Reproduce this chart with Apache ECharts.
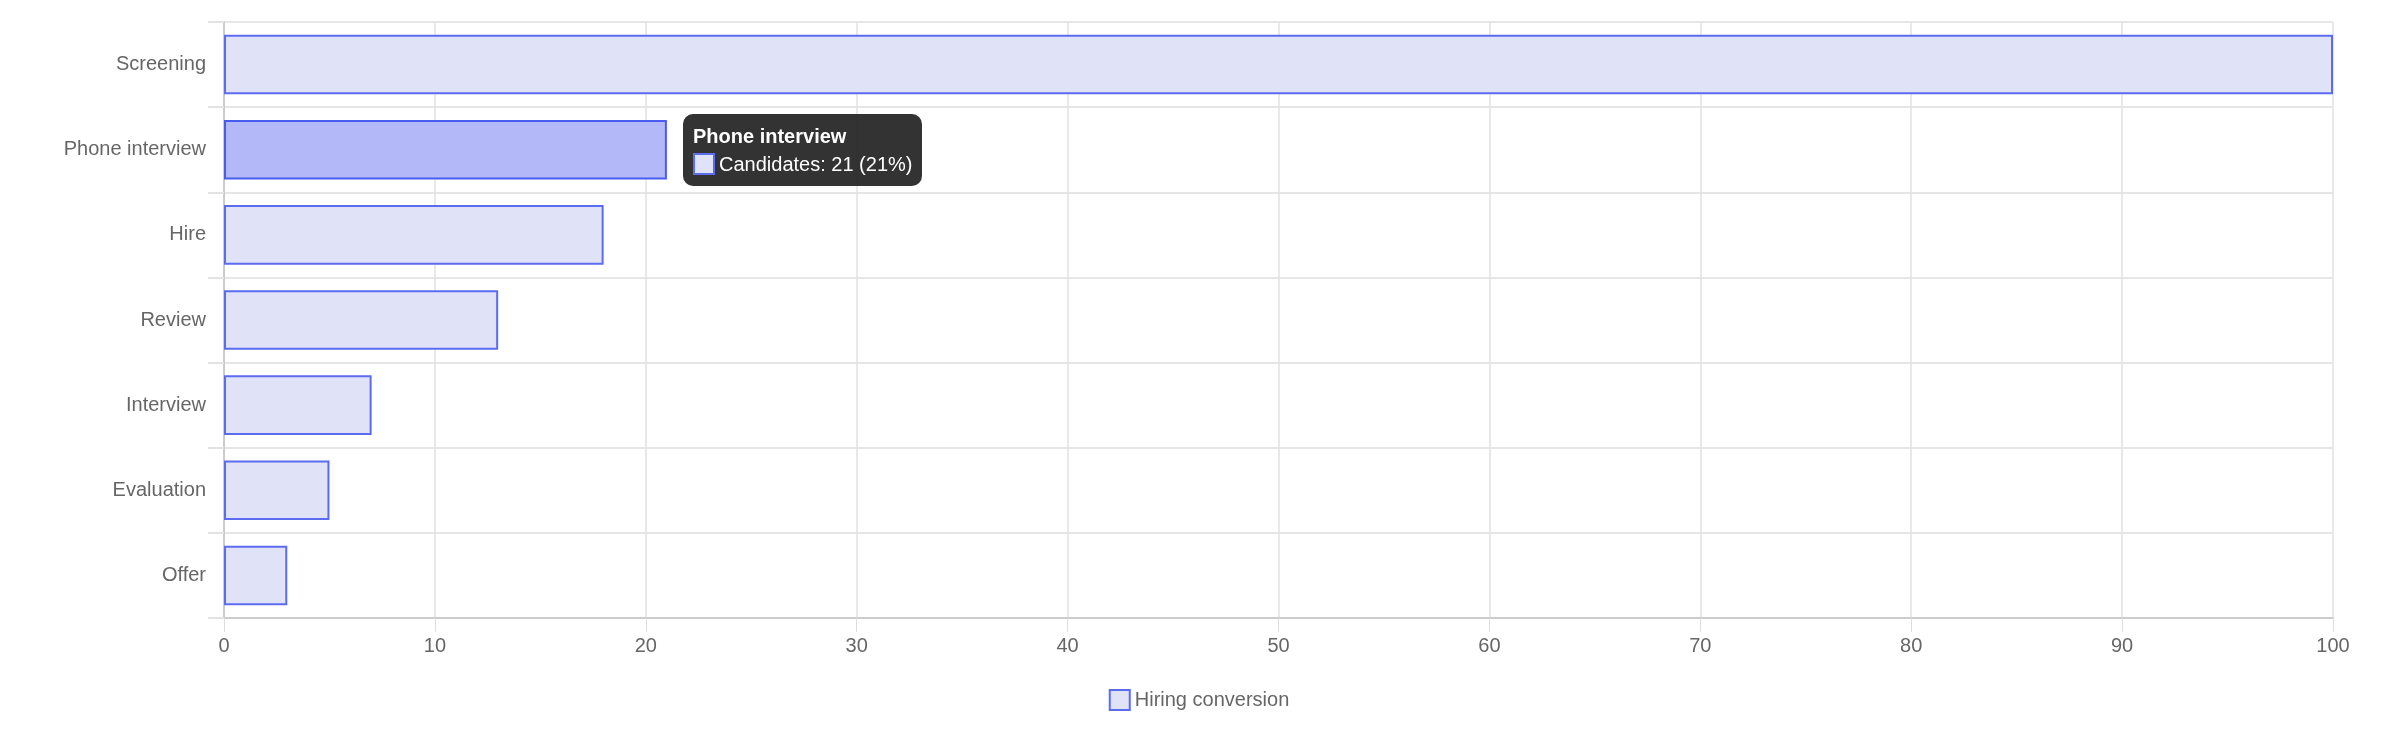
<!DOCTYPE html>
<html>
<head>
<meta charset="utf-8">
<script src="https://cdn.jsdelivr.net/npm/echarts@6/dist/echarts.min.js"></script>
<style>
  html, body { margin: 0; padding: 0; background: #fff; }
  #chart { width: 2398px; height: 756px; }
  .tt-title { font: bold 20px 'Liberation Sans', Arial, sans-serif; color: #fff; line-height: 28px; }
  .tt-row { font: 20px 'Liberation Sans', Arial, sans-serif; color: #fff; line-height: 28px; display: flex; align-items: center; }
  .tt-box { display: inline-block; width: 22px; height: 22px; background: #e0e3f8; border: 2px solid #5b6cf0; box-sizing: border-box; margin-right: 4px; }
</style>
</head>
<body>
<div id="chart"></div>
<script>
// hiring funnel, horizontal bars
const stages = ['Screening', 'Phone interview', 'Hire', 'Review', 'Interview', 'Evaluation', 'Offer']
const candidates = [100, 21, 18, 13, 7, 5, 3]
const xTicks = [0, 10, 20, 30, 40, 50, 60, 70, 80, 90, 100]

const font = '"Liberation Sans", Arial, sans-serif'
const chart = echarts.init(document.getElementById('chart'))

const option = {
    animation: false,
    textStyle: { fontFamily: font },
    grid: { left: 224, right: 65, top: 22, bottom: 138 },
    legend: {
        bottom: 40,
        left: 'center',
        itemWidth: 20,
        itemHeight: 20,
        itemGap: 10,
        textStyle: { fontSize: 20, color: '#666', fontFamily: font },
        data: [{ name: 'Hiring conversion', icon: 'rect' }]
    },
    tooltip: {
        trigger: 'item',
        alwaysShowContent: true,
        backgroundColor: 'rgba(40,40,40,0.95)',
        borderWidth: 0,
        padding: [8, 10],
        extraCssText: 'border-radius:10px;box-shadow:none;',
        position: (point, params, dom, rect) => [rect.x + rect.width + 16, rect.y - 6],
        formatter: p => '<div class="tt-title">' + p.name + '</div>' +
            '<div class="tt-row"><span class="tt-box"></span>' +
            'Candidates: ' + p.value + ' (' + p.value + '%)</div>'
    },
    xAxis: {
        type: 'value',
        min: 0,
        max: 100,
        interval: 10,
        axisLine: { show: true, lineStyle: { color: '#ccc', width: 2 } },
        axisTick: { show: true, length: 14, lineStyle: { color: '#ddd' } },
        axisLabel: { fontSize: 20, color: '#666', margin: 18 },
        splitLine: { show: true, lineStyle: { color: '#e2e2e2', width: 1.5 } }
    },
    yAxis: {
        type: 'category',
        inverse: true,
        data: stages,
        axisLine: { show: true, lineStyle: { color: '#ccc', width: 2 } },
        axisTick: { show: true, length: 16, lineStyle: { color: '#e2e2e2', width: 2 } },
        axisLabel: { fontSize: 20, color: '#666', margin: 18 },
        splitLine: { show: true, lineStyle: { color: '#e6e6e6', width: 2 } }
    },
    series: [{
        name: 'Hiring conversion',
        type: 'bar',
        data: candidates,
        barWidth: '70%',
        itemStyle: { color: '#e0e3f8', borderColor: '#5b6cf0', borderWidth: 2 },
        emphasis: { itemStyle: { color: '#b3b8f8', borderColor: '#4a5cf0' } }
    }]
}

chart.setOption(option)
chart.dispatchAction({ type: 'highlight', seriesIndex: 0, dataIndex: 1 })
chart.dispatchAction({ type: 'showTip', seriesIndex: 0, dataIndex: 1 })
</script>
</body>
</html>
